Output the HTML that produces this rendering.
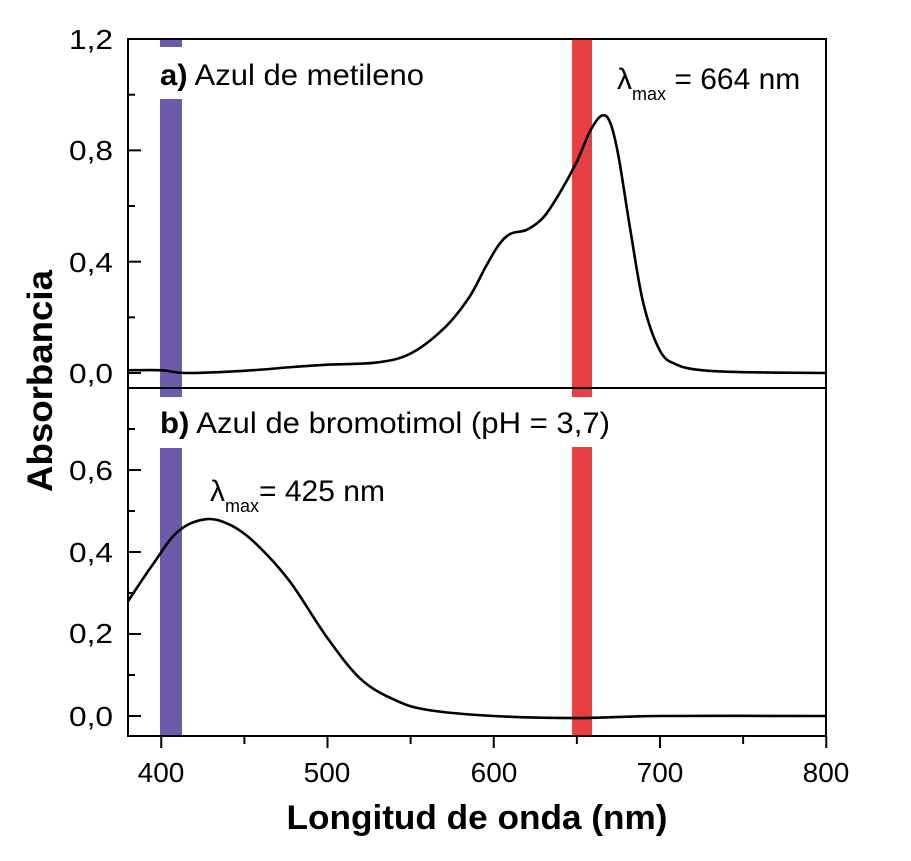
<!DOCTYPE html>
<html><head><meta charset="utf-8"><style>
html,body{margin:0;padding:0;background:#fff;}
svg{display:block;font-family:"Liberation Sans",Arial,sans-serif;}
</style></head><body>
<svg id="s" width="911" height="861" viewBox="0 0 911 861" xmlns="http://www.w3.org/2000/svg">
<rect width="911" height="861" fill="#fff"/>
<g fill="#6b5ba8">
<rect x="160" y="39" width="22" height="8"/>
<rect x="160" y="99" width="22" height="298"/>
<rect x="160" y="448" width="22" height="288"/>
</g>
<g fill="#e64043">
<rect x="572" y="39" width="20" height="358"/>
<rect x="572" y="447" width="20" height="289"/>
</g>
<path id="c1" fill="none" stroke="#000" stroke-width="2.6"/>
<path id="c2" fill="none" stroke="#000" stroke-width="2.6"/>
<g stroke="#000" stroke-width="2" fill="none">
<rect x="128" y="39" width="698" height="697"/>
<line x1="128" y1="388" x2="826" y2="388"/>
</g>
<g id="ticks" stroke="#000" stroke-width="2"></g>
<g font-size="28" fill="#000" text-anchor="end">
<text x="113" y="49" textLength="44" lengthAdjust="spacingAndGlyphs">1,2</text>
<text x="113" y="160" textLength="44" lengthAdjust="spacingAndGlyphs">0,8</text>
<text x="113" y="272" textLength="44" lengthAdjust="spacingAndGlyphs">0,4</text>
<text x="113" y="383" textLength="44" lengthAdjust="spacingAndGlyphs">0,0</text>
<text x="113" y="480" textLength="44" lengthAdjust="spacingAndGlyphs">0,6</text>
<text x="113" y="562" textLength="44" lengthAdjust="spacingAndGlyphs">0,4</text>
<text x="113" y="643" textLength="44" lengthAdjust="spacingAndGlyphs">0,2</text>
<text x="113" y="726" textLength="44" lengthAdjust="spacingAndGlyphs">0,0</text>
</g>
<g font-size="28" fill="#000" text-anchor="middle">
<text x="161" y="782">400</text>
<text x="327" y="782">500</text>
<text x="494" y="782">600</text>
<text x="660" y="782">700</text>
<text x="826" y="782">800</text>
</g>
<text x="477" y="829" font-size="34" font-weight="bold" text-anchor="middle" textLength="381" lengthAdjust="spacingAndGlyphs">Longitud de onda (nm)</text>
<text transform="translate(52,381) rotate(-90)" font-size="35" font-weight="bold" text-anchor="middle" textLength="222" lengthAdjust="spacingAndGlyphs">Absorbancia</text>
<text x="160" y="85" font-size="30" textLength="264" lengthAdjust="spacingAndGlyphs"><tspan font-weight="bold">a)</tspan> Azul de metileno</text>
<text x="617" y="89" font-size="30">λ<tspan font-size="18" dy="11">max</tspan><tspan dy="-11"> = 664 nm</tspan></text>
<text x="160" y="433" font-size="30" textLength="450" lengthAdjust="spacingAndGlyphs"><tspan font-weight="bold">b)</tspan> Azul de bromotimol (pH = 3,7)</text>
<text x="210" y="501" font-size="30">λ<tspan font-size="18" dy="11">max</tspan><tspan dy="-11">= 425 nm</tspan></text>
</svg>
<script>
function X(nm){return 128+(nm-380)*1.6625;}
function Y1(a){return 373-a*278.3;}
function Y2(a){return 716-a*410;}
function path(pts,Y){
 var p=pts.map(function(q){return [X(q[0]),Y(q[1])];});
 var d="M"+p[0][0]+","+p[0][1];
 for(var i=0;i<p.length-1;i++){
  var p0=p[i-1]||p[i],p1=p[i],p2=p[i+1],p3=p[i+2]||p2;
  d+=" C"+(p1[0]+(p2[0]-p0[0])/6)+","+(p1[1]+(p2[1]-p0[1])/6)+" "+(p2[0]-(p3[0]-p1[0])/6)+","+(p2[1]-(p3[1]-p1[1])/6)+" "+p2[0]+","+p2[1];
 }
 return d;
}
var a=[[380,0.01],[400,0.01],[415,0.0],[450,0.008],[480,0.022],[500,0.03],[530,0.038],[550,0.07],[570,0.16],[585,0.27],[595,0.38],[603,0.46],[610,0.5],[620,0.515],[630,0.56],[640,0.65],[650,0.76],[658,0.87],[665,0.925],[670,0.9],[675,0.78],[682,0.52],[690,0.25],[700,0.08],[710,0.03],[725,0.01],[750,0.003],[800,0.0]];
var b=[[380,0.28],[395,0.37],[410,0.45],[427,0.48],[442,0.465],[457,0.42],[477,0.33],[500,0.19],[520,0.09],[540,0.04],[560,0.015],[600,0.0],[650,-0.005],[700,0.0],[800,0.0]];
document.getElementById("c1").setAttribute("d",path(a,Y1));
document.getElementById("c2").setAttribute("d",path(b,Y2));
var g=document.getElementById("ticks"),s="";
function L(x1,y1,x2,y2){s+='<line x1="'+x1+'" y1="'+y1+'" x2="'+x2+'" y2="'+y2+'"/>';}
[0,0.4,0.8].forEach(function(v){L(128,Y1(v),141,Y1(v));});
[0.2,0.6,1.0].forEach(function(v){L(128,Y1(v),135,Y1(v));});
[0,0.2,0.4,0.6].forEach(function(v){L(128,Y2(v),141,Y2(v));});
[0.1,0.3,0.5,0.7].forEach(function(v){L(128,Y2(v),135,Y2(v));});
[400,500,600,700,800].forEach(function(v){L(X(v),736,X(v),748);});
[450,550,650,750].forEach(function(v){L(X(v),736,X(v),744);});
g.innerHTML=s;
</script>
</body></html>
